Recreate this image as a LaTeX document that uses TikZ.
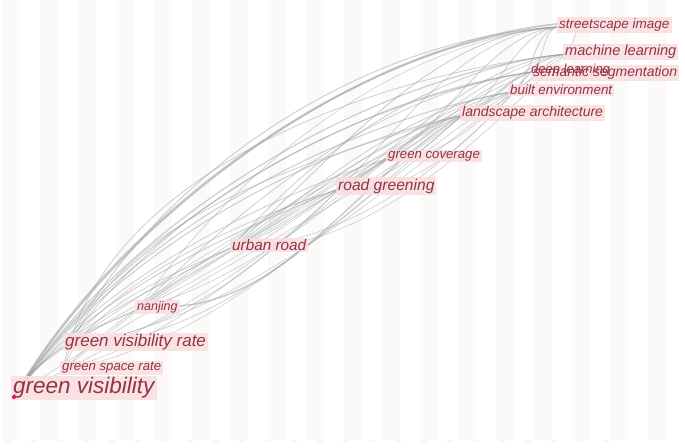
\documentclass[tikz,border=0pt]{standalone}
\usepackage{fontspec}
\setmainfont{Liberation Sans}
\definecolor{txtred}{RGB}{148,52,68}
\definecolor{boxpink}{RGB}{249,222,224}
\definecolor{stripe}{RGB}{252,249,249}
\definecolor{edgegray}{RGB}{155,160,160}
\tikzset{
  lbl/.style={anchor=west, text=txtred, fill=boxpink, fill opacity=0.85, text opacity=1, inner xsep=2pt, inner ysep=1.5pt},
  edge/.style={draw=edgegray, line width=#1, opacity=0.5, looseness=0.85},
  edge/.default=0.8,
}
\newcommand{\fsz}[1]{\fontsize{#1}{#1}\selectfont\itshape}
\begin{document}
\begin{tikzpicture}[x=1pt,y=-1pt]
\useasboundingbox (0,0) rectangle (685,447);
\fill[white] (0,0) rectangle (685,447);
% background stripes
\foreach \i in {0,...,17}{
  \fill[stripe] (2+38*\i,0) rectangle (20+38*\i,440);
}
\foreach \i in {0,...,23}{
  \fill[stripe!80!gray!30] (5+26*\i,440) rectangle (11+26*\i,441.5);
}

% anchor points of the terms
\coordinate (gvp) at (14,397);
\coordinate (gsrp) at (63,370);
\coordinate (gvrp) at (66,346);
\coordinate (njp) at (138,309);
\coordinate (njr) at (180,306);
\coordinate (urp) at (233,247);
\coordinate (rgp) at (339,189);
\coordinate (gcp) at (389,158);
\coordinate (lap) at (463,115);
\coordinate (bep) at (511,92);
\coordinate (dlp) at (531,72);
\coordinate (mlp) at (566,54);
\coordinate (sip) at (559,27);
\coordinate (top) at (586,22);

% edges from green visibility
\draw[edge=1.9] (gvp) to[out=60,in=182,looseness=0.8] (top);
\draw[edge=1.4] (gvp) to[out=59,in=184,looseness=0.8] (sip);
\draw[edge=1.2] (gvp) to[out=58,in=186,looseness=0.8] (mlp);
\draw[edge=1.1] (gvp) to[out=57,in=188,looseness=0.8] (dlp);
\draw[edge=1.0] (gvp) to[out=57,in=190,looseness=0.8] (bep);
\draw[edge=1.0] (gvp) to[out=56,in=192,looseness=0.8] (lap);
\draw[edge=0.8] (gvp) to[out=55,in=198,looseness=0.8] (gcp);
\draw[edge=0.9] (gvp) to[out=55,in=202,looseness=0.8] (rgp);
\draw[edge=0.8] (gvp) to[out=56,in=208,looseness=0.8] (urp);
\draw[edge=0.7] (gvp) to[out=62,in=205] (njp);
\draw[edge=0.7] (gvp) to[out=75,in=220] (gvrp);
\draw[edge=0.6] (gvp) to[out=35,in=218] (lap);
\draw[edge=0.6] (gvp) to[out=28,in=225] (rgp);

% from green space rate
\draw[edge=0.8] (gsrp) to[out=80,in=186] (mlp);
\draw[edge=0.7] (gsrp) to[out=75,in=196] (lap);
\draw[edge=0.7] (gsrp) to[out=70,in=205] (urp);
\draw[edge=0.6] (gsrp) to[out=15,in=215] (gcp);
\draw[edge=0.6] (gsrp) to[out=10,in=212] (bep);
\draw[edge=0.6] (gsrp) to[out=45,in=212] (rgp);
\draw[edge=0.6] (gsrp) to[out=40,in=205] (dlp);

% from green visibility rate
\draw[edge=0.9] (gvrp) to[out=62,in=183] (sip);
\draw[edge=0.8] (gvrp) to[out=55,in=190] (dlp);
\draw[edge=0.7] (gvrp) to[out=48,in=198] (rgp);
\draw[edge=0.7] (gvrp) to[out=0,in=220] (lap);
\draw[edge=0.7] (gvrp) to[out=5,in=225] (rgp);
\draw[edge=0.6] (gvrp) to[out=8,in=215] (mlp);
\draw[edge=0.6] (gvrp) to[out=45,in=210] (njp);
\draw[edge=0.6] (gvrp) to[out=30,in=210] (gcp);
\draw[edge=0.6] (gvrp) to[out=35,in=205] (bep);

% from nanjing
\draw[edge=1.5] (njr) to[out=5,in=210] (lap);
\draw[edge=0.8] (njp) to[out=45,in=188] (dlp);
\draw[edge=0.7] (njp) to[out=40,in=200] (urp);
\draw[edge=0.6] (njp) to[out=15,in=220] (gcp);
\draw[edge=0.6] (njp) to[out=30,in=200] (bep);
\draw[edge=0.6] (njp) to[out=55,in=185] (sip);
\draw[edge=0.6] (njp) to[out=25,in=215] (rgp);

% from urban road
\draw[edge=0.9] (urp) to[out=40,in=182] (sip);
\draw[edge=0.8] (urp) to[out=35,in=188] (bep);
\draw[edge=0.8] (urp) to[out=30,in=192] (lap);
\draw[edge=0.7] (urp) to[out=25,in=200] (gcp);
\draw[edge=0.7] (urp) to[out=15,in=210] (rgp);
\draw[edge=0.6] (urp) to[out=-5,in=225] (mlp);
\draw[edge=0.6] (urp) to[out=0,in=230] (dlp);
\draw[edge=0.8] (urp) to[out=50,in=185] (mlp);
\draw[edge=0.6] (urp) to[out=60,in=200] (rgp);

% from road greening
\draw[edge=0.8] (rgp) to[out=35,in=185] (mlp);
\draw[edge=0.8] (rgp) to[out=30,in=190] (bep);
\draw[edge=0.7] (rgp) to[out=25,in=195] (lap);
\draw[edge=0.7] (rgp) to[out=45,in=182] (sip);
\draw[edge=0.6] (rgp) to[out=20,in=205] (gcp);
\draw[edge=0.6] (rgp) to[out=-10,in=230] (dlp);
\draw[edge=0.6] (rgp) to[out=5,in=220] (lap);

% from green coverage
\draw[edge=0.8] (gcp) to[out=30,in=185] (sip);
\draw[edge=0.7] (gcp) to[out=25,in=190] (dlp);
\draw[edge=0.7] (gcp) to[out=20,in=200] (lap);
\draw[edge=0.6] (gcp) to[out=-5,in=225] (bep);
\draw[edge=0.6] (gcp) to[out=40,in=190] (mlp);

% upper ones
\draw[edge=1.0] (lap) to[out=25,in=188] (mlp);
\draw[edge=0.8] (lap) to[out=30,in=185] (sip);
\draw[edge=0.7] (lap) to[out=15,in=200] (dlp);
\draw[edge=0.8] (bep) to[out=30,in=185] (sip);
\draw[edge=0.7] (bep) to[out=20,in=195] (mlp);
\draw[edge=0.7] (dlp) to[out=35,in=185] (sip);
\draw[edge=0.7] (mlp) to[out=40,in=190] (top);
\draw[edge=0.9] (sip) to[out=10,in=190] (top);

% labels
\node[lbl] (si) at (557,25) {\fsz{13.5}streetscape image};
\node[lbl] (ml) at (563,52) {\fsz{14.6}machine learning};
\node[lbl] (ss) at (531,73) {\fsz{14}semantic segmentation};
\node[lbl, fill opacity=0] (dl) at (529,70) {\fsz{13}deep learning};
\node[lbl] (be) at (508,90) {\fsz{13.4}built environment};
\node[lbl] (la) at (460,113) {\fsz{14}landscape architecture};
\node[lbl] (gc) at (386,156) {\fsz{13.2}green coverage};
\node[lbl] (rg) at (336,186) {\fsz{15.6}road greening};
\node[lbl] (ur) at (230,245) {\fsz{15.3}urban road};
\node[lbl] (nj) at (135,307) {\fsz{12.5}nanjing};
\node[lbl] (gvr) at (63,342) {\fsz{17}green visibility rate};
\node[lbl] (gsr) at (60,368) {\fsz{13.2}green space rate};
\node[lbl] (gv) at (11,388) {\fsz{22.5}green visibility};
\fill[magenta!70!red] (gvp) circle (2);
\end{tikzpicture}
\end{document}
